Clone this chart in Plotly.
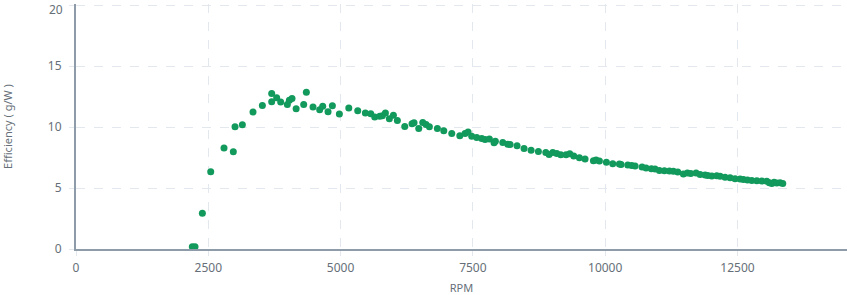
import plotly.graph_objects as go

rpm = [2198, 2249, 2388, 2546, 2797, 2973, 3005, 3144, 3345, 3522, 3698, 3698, 3792, 3868,
       3994, 4032, 4082, 4160, 4303, 4353, 4479, 4605, 4662, 4763, 4845, 4977, 5155, 5324,
       5468, 5570, 5645, 5740, 5790, 5847, 5922, 5998, 6073, 6213, 6350, 6388, 6477, 6553,
       6615, 6678, 6829, 6950, 7101, 7253, 7352, 7409, 7478, 7573, 7668, 7730, 7812, 7900,
       7925, 8065, 8160, 8203, 8335, 8467, 8600, 8738, 8878, 8940, 9010, 9085, 9161, 9261,
       9331, 9406, 9513, 9620, 9778, 9828, 9891, 10023, 10143, 10269, 10300, 10427, 10502,
       10565, 10697, 10773, 10873, 10943, 11025, 11119, 11214, 11289, 11372, 11478, 11554,
       11617, 11718, 11794, 11888, 11939, 12015, 12109, 12172, 12266, 12361, 12455, 12550,
       12613, 12689, 12771, 12866, 12960, 13054, 13103, 13149, 13192, 13243, 13306, 13356]
efficiency = [0.19, 0.19, 2.93, 6.34, 8.28, 7.98, 10.03, 10.19, 11.23, 11.78, 12.76, 12.08,
              12.4, 12.05, 11.86, 12.2, 12.35, 11.5, 11.86, 12.87, 11.66, 11.42, 11.72, 11.25,
              11.75, 11.07, 11.57, 11.34, 11.15, 11.09, 10.82, 10.9, 10.93, 11.15, 10.68,
              10.98, 10.54, 10.05, 10.27, 10.35, 9.89, 10.38, 10.22, 10.03, 9.89, 9.7, 9.48,
              9.29, 9.48, 9.59, 9.26, 9.15, 9.07, 8.99, 9.02, 8.71, 8.85, 8.74, 8.6, 8.58,
              8.47, 8.25, 8.11, 8.0, 7.92, 7.76, 7.92, 7.84, 7.73, 7.73, 7.81, 7.62, 7.48,
              7.38, 7.24, 7.3, 7.21, 7.11, 6.99, 6.97, 6.94, 6.89, 6.86, 6.8, 6.72, 6.64,
              6.58, 6.56, 6.45, 6.42, 6.39, 6.37, 6.31, 6.15, 6.23, 6.2, 6.23, 6.12, 6.07,
              6.04, 5.98, 6.01, 5.96, 5.88, 5.84, 5.76, 5.74, 5.71, 5.66, 5.63, 5.6, 5.57,
              5.55, 5.43, 5.38, 5.47, 5.41, 5.43, 5.38]

x_range = [0, 14570]
y_range = [0, 20.1]
x_ticks = [0, 2500, 5000, 7500, 10000, 12500]
x_tick_labels = ["0", "2500", "5000", "7500", "10000", "12500"]
y_ticks = [0, 5, 10, 15, 20]
y_tick_labels = ["0", "5", "10", "15", "20"]

label_color = "#666f78"
label_font = dict(family="Noto Sans", size=12, color=label_color)

fig = go.Figure()
fig.add_trace(go.Scatter(
    x=rpm, y=efficiency, mode="markers",
    marker=dict(color="#12995c", size=7, line=dict(width=0)),
    hoverinfo="x+y", showlegend=False,
))

axis_common = dict(
    showgrid=True, gridcolor="#e3e8ee", griddash="dash", gridwidth=1,
    zeroline=False, showline=True, linecolor="#8d9ca8", linewidth=2,
    ticks="outside", ticklen=5, tickcolor="#e3e8ee", tickwidth=1,
    tickfont=label_font,
    title_font=dict(family="Noto Sans", size=11, color=label_color),
)

fig.update_layout(
    width=847, height=295,
    margin=dict(l=76, r=0, t=4, b=46),
    paper_bgcolor="white", plot_bgcolor="white",
    font=dict(family="Noto Sans", color=label_color),
    xaxis=dict(range=x_range, tickvals=x_ticks, ticktext=x_tick_labels,
               ticklabelstandoff=2,
               title=dict(text="RPM", standoff=10), **axis_common),
    yaxis=dict(range=y_range, tickvals=y_ticks, ticktext=y_tick_labels,
               ticklabelstandoff=5,
               title=dict(text="Efficiency ( g/W )", standoff=33), **axis_common),
)

# the top tick label would sit partly outside the page (plotly hides it); draw it as text
fig.add_annotation(
    x=0, xref="paper", y=1, yref="paper", text=y_tick_labels[-1],
    showarrow=False, xanchor="right", yanchor="top", xshift=-12, yshift=4,
    borderpad=0, font=label_font,
)

fig.write_html("out.html")
